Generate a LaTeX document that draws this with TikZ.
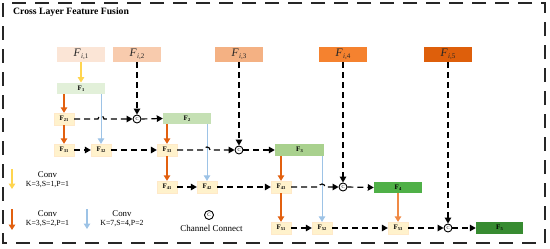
\documentclass[tikz,border=0pt]{standalone}
\usepackage{fontspec}
\setmainfont{Liberation Serif}
\usetikzlibrary{arrows.meta,calc}
\definecolor{ci1}{HTML}{FBE5D6}
\definecolor{ci2}{HTML}{F8CBAD}
\definecolor{ci3}{HTML}{F4B183}
\definecolor{ci4}{HTML}{F5822F}
\definecolor{ci5}{HTML}{DE5F0B}
\definecolor{cf1}{HTML}{E2F0D9}
\definecolor{cf2}{HTML}{C5E0B4}
\definecolor{cf3}{HTML}{A9D18E}
\definecolor{cf4}{HTML}{4FB047}
\definecolor{cf5}{HTML}{378B31}
\definecolor{cs}{HTML}{FFF2CC}
\definecolor{cyel}{HTML}{FFD54F}
\definecolor{cor}{HTML}{E2600F}
\definecolor{cor2}{HTML}{F08A45}
\definecolor{cblue}{HTML}{9DC3E6}
\newcommand{\srclab}[1]{\textit{F}\kern0.3pt\raisebox{-2.5pt}{\fontsize{7}{7}\selectfont\textit{i},#1}}
\newcommand{\featlab}[1]{F\kern0.2pt\raisebox{-1pt}{\fontsize{4.5}{4.5}\selectfont #1}}
\tikzset{
  srcbox/.style={rectangle, minimum width=48pt, minimum height=15pt, inner sep=0pt,
    font=\fontsize{11.5}{11.5}\selectfont, text=black!85},
  featbox/.style={rectangle, minimum width=48pt, minimum height=11.5pt, inner sep=0pt,
    font=\fontsize{7}{7}\selectfont\bfseries},
  smallbox/.style={rectangle, fill=cs, draw=cs!80!orange!60, line width=0.3pt,
    minimum width=20pt, minimum height=12pt, inner sep=0pt,
    font=\fontsize{7}{7}\selectfont\bfseries},
  ccirc/.style={circle, draw=black, line width=0.9pt, fill=white, minimum size=8pt,
    inner sep=0pt, font=\fontsize{4.5}{4.5}\selectfont},
  dline/.style={draw=black, line width=1.15pt, dash pattern=on 6pt off 4pt,
    -{Triangle[length=6pt,width=6.5pt]}},
  oarr/.style={draw=cor, line width=1.3pt, -{Triangle[length=5.5pt,width=6.5pt]}},
  oarrb/.style={draw=cor2, line width=1.3pt, -{Triangle[length=5.5pt,width=6.5pt]}},
  barr/.style={draw=cblue, line width=1pt, -{Triangle[length=5.5pt,width=6.5pt]}},
  yarr/.style={draw=cyel, line width=1.3pt, -{Triangle[length=5.5pt,width=6.5pt]}},
  legtext/.style={align=center, font=\fontsize{7.8}{9}\selectfont, inner sep=0pt},
}
\begin{document}
\begin{tikzpicture}[x=1pt,y=-1pt]
\useasboundingbox (0,0) rectangle (550,249);
\draw[line width=1.2pt, dash pattern=on 14pt off 9pt, draw=black!85] (3,3) rectangle (545,243);
\node[anchor=west, inner sep=0pt, font=\fontsize{9.7}{10}\selectfont\bfseries] (title) at (13,12.5) {Cross Layer Feature Fusion};

% source features
\node[srcbox, fill=ci1] (Fi1) at (81,54.5) {\srclab{1}};
\node[srcbox, fill=ci2] (Fi2) at (137,54.5) {\srclab{2}};
\node[srcbox, fill=ci3] (Fi3) at (239,54.5) {\srclab{3}};
\node[srcbox, fill=ci4] (Fi4) at (343,54.5) {\srclab{4}};
\node[srcbox, fill=ci5] (Fi5) at (448,54.5) {\srclab{5}};

% fused features
\node[featbox, fill=cf1] (F1) at (81,88.5) {\featlab{1}};
\node[featbox, fill=cf2] (F2) at (187,118.5) {\featlab{2}};
\node[featbox, fill=cf3, minimum width=49pt] (F3) at (299.5,150) {\featlab{3}};
\node[featbox, fill=cf4] (F4) at (398,187.5) {\featlab{4}};
\node[featbox, fill=cf5, minimum width=47pt] (F5) at (499.5,228) {\featlab{5}};

% small boxes
\node[smallbox] (F21) at (64,119) {\featlab{21}};
\node[smallbox] (F31) at (64,150) {\featlab{31}};
\node[smallbox] (F32) at (101,150) {\featlab{32}};
\node[smallbox] (F33) at (167,150) {\featlab{33}};
\node[smallbox] (F41) at (167,187) {\featlab{41}};
\node[smallbox] (F42) at (207,187) {\featlab{42}};
\node[smallbox] (F43) at (281,187) {\featlab{43}};
\node[smallbox] (F51) at (281,228) {\featlab{51}};
\node[smallbox] (F52) at (322,228) {\featlab{52}};
\node[smallbox] (F53) at (398,228) {\featlab{53}};

% channel connects
\node[ccirc] (C1) at (137,119) {C};
\node[ccirc] (C2) at (239,150) {C};
\node[ccirc] (C3) at (343,187) {C};
\node[ccirc] (C4) at (448,228) {C};

% conv arrows
\draw[yarr] (Fi1.south) -- (F1.north);
\draw[oarr] (F1.south -| F21) -- (F21.north);
\draw[barr] (F1.south -| F32) -- (F32.north);
\draw[oarr] (F21.south) -- (F31.north);
\draw[oarr] (F2.south -| F33) -- (F33.north);
\draw[barr] (F2.south -| F42) -- (F42.north);
\draw[oarr] (F33.south) -- (F41.north);
\draw[oarr] (F3.south -| F43) -- (F43.north);
\draw[barr] (F3.south -| F52) -- (F52.north);
\draw[oarr] (F43.south) -- (F51.north);
\draw[oarrb] (F4.south -| F53) -- (F53.north);

% dashed connections
\draw[dline] (F21.east) -- ($(F32.center |- F21.east)+(-3pt,0)$) arc[start angle=180, end angle=0, radius=3pt] -- (C1.west);
\draw[dline] (Fi2.south) -- (C1.north);
\draw[dline] (C1.east) -- (F2.west);

\draw[dline] (F31.east) -- (F32.west);
\draw[dline] (F32.east) -- (F33.west);
\draw[dline] (F33.east) -- ($(F42.center |- F33.east)+(-3pt,0)$) arc[start angle=180, end angle=0, radius=3pt] -- (C2.west);
\draw[dline] (Fi3.south) -- (C2.north);
\draw[dline] (C2.east) -- (F3.west);

\draw[dline] (F41.east) -- (F42.west);
\draw[dline] (F42.east) -- (F43.west);
\draw[dline] (F43.east) -- ($(F52.center |- F43.east)+(-3pt,0)$) arc[start angle=180, end angle=0, radius=3pt] -- (C3.west);
\draw[dline] (Fi4.south) -- (C3.north);
\draw[dline] (C3.east) -- (F4.west);

\draw[dline] (F51.east) -- (F52.west);
\draw[dline] (F52.east) -- (F53.west);
\draw[dline] (F53.east) -- (C4.west);
\draw[dline] (Fi5.south) -- (C4.north);
\draw[dline] (C4.east) -- (F5.west);

% legend
\coordinate (ly1) at (12,169);
\coordinate (ly2) at (12,189);
\draw[yarr, line width=1.5pt] (ly1) -- (ly2);
\node[legtext] (ly) at (47.5,179.5) {{\fontsize{8.8}{9}\selectfont Conv}\\K=3,S=1,P=1};
\coordinate (lo1) at (12,209);
\coordinate (lo2) at (12,230);
\draw[oarr, line width=1.5pt] (lo1) -- (lo2);
\node[legtext] (lo) at (47.5,219) {{\fontsize{8.8}{9}\selectfont Conv}\\K=3,S=2,P=1};
\coordinate (lb1) at (87,209);
\coordinate (lb2) at (87,229);
\draw[barr, line width=1.2pt] (lb1) -- (lb2);
\node[legtext] (lb) at (122,219) {{\fontsize{8.8}{9}\selectfont Conv}\\K=7,S=4,P=2};
\node[ccirc, minimum size=9pt, font=\fontsize{5}{5}\selectfont] (lc) at (209,215) {C};
\node[legtext, font=\fontsize{9}{9}\selectfont] (lct) at (211.5,228) {Channel Connect};
\end{tikzpicture}
\end{document}
